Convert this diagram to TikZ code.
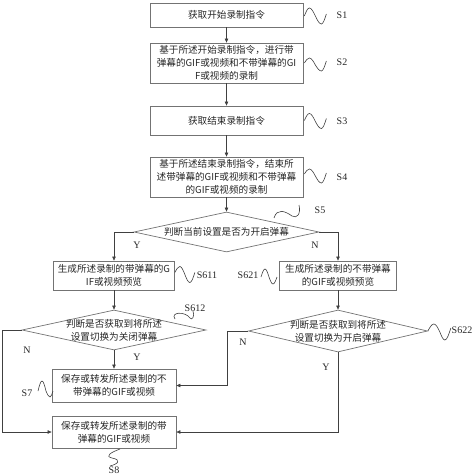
\documentclass[tikz,border=0pt]{standalone}
\usepackage{fontspec}
\setmainfont{Liberation Serif}
\newfontfamily\cjk{Noto Sans CJK SC}
\usetikzlibrary{shapes.geometric,arrows.meta,calc}
\definecolor{linec}{gray}{0.25}
\definecolor{boxc}{gray}{0.45}
\definecolor{txt}{gray}{0.15}
\begin{document}
\begin{tikzpicture}[x=1pt,y=-1pt,
  box/.style={draw=boxc, line width=0.7pt, inner sep=0pt, align=center,
    font=\cjk\fontsize{9.6}{13}\selectfont, text=txt},
  dia/.style={diamond, draw=boxc, line width=0.7pt, inner sep=0pt},
  dtext/.style={align=center, font=\cjk\fontsize{9.6}{13}\selectfont, text=txt, inner sep=0pt},
  conn/.style={draw=linec, line width=0.6pt},
  arr/.style={conn, -{Triangle[length=4pt,width=3.4pt]}},
  lab/.style={font=\fontsize{10}{12}\selectfont, text=txt, inner sep=0pt},
  wave/.style={draw=linec, line width=0.6pt}]
\useasboundingbox (0,0) rectangle (474,476);

% main column
\node[box, minimum width=153pt, minimum height=24pt] (S1) at (226.5,15) {获取开始录制指令};
\node[box, minimum width=153pt, minimum height=40pt] (S2) at (226.5,63)
  {基于所述开始录制指令，进行带\\弹幕的GIF或视频和不带弹幕的GI\\F或视频的录制};
\node[box, minimum width=153pt, minimum height=29pt] (S3) at (226.5,120.5) {获取结束录制指令};
\node[box, minimum width=153pt, minimum height=40pt] (S4) at (226.5,177)
  {基于所述结束录制指令，结束所\\述带弹幕的GIF或视频和不带弹幕\\的GIF或视频的录制};
\node[dia, minimum width=185pt, minimum height=40pt,
  label={[dtext]center:判断当前设置是否为开启弹幕}] (S5) at (226.5,232) {};

% left branch
\node[box, minimum width=121pt, minimum height=29pt] (S611) at (114,275.5)
  {生成所述录制的带弹幕的G\\IF或视频预览};
\node[dia, minimum width=184pt, minimum height=40pt,
  label={[dtext]center:{判断是否获取到将所述\\设置切换为关闭弹幕}}] (S612) at (114,330) {};
\node[box, minimum width=124pt, minimum height=33pt] (S7) at (114,385.5)
  {保存或转发所述录制的不\\带弹幕的GIF或视频};
\node[box, minimum width=124pt, minimum height=32pt] (S8) at (114,432)
  {保存或转发所述录制的带\\弹幕的GIF或视频};

% right branch
\node[box, minimum width=117pt, minimum height=29pt] (S621) at (338,275.5)
  {生成所述录制的不带弹幕\\的GIF或视频预览};
\node[dia, minimum width=179pt, minimum height=42pt,
  label={[dtext]center:{判断是否获取到将所述\\设置切换为开启弹幕}}] (S622) at (338,331) {};

% connectors
\draw[arr] (S1.south) -- (S2.north);
\draw[arr] (S2.south) -- (S3.north);
\draw[arr] (S3.south) -- (S4.north);
\draw[arr] (S4.south) -- (S5.north);
\draw[arr] (S5.west) -| (S611.north);
\draw[arr] (S5.east) -| (S621.north);
\draw[arr] (S611.south) -- (S612.north);
\draw[arr] (S621.south) -- (S622.north);
\draw[arr] (S612.south) -- (S7.north);
\draw[arr] (S612.west) -- ++(-19,0) |- (S8.west);
\draw[arr] (S622.west) -- ++(-21,0) |- (S7.east);
\draw[arr] (S622.south) |- (S8.east);

% Y / N labels
\node[lab] (y5) at (137,245) {Y};
\node[lab] (n5) at (315,245) {N};
\node[lab] (n612) at (27,350) {N};
\node[lab] (y612) at (137,357) {Y};
\node[lab] (n622) at (243,342) {N};
\node[lab] (y622) at (326,367) {Y};

% step labels
\node[lab] (l1) at (342,15) {S1};
\node[lab] (l2) at (342,62) {S2};
\node[lab] (l3) at (342,121) {S3};
\node[lab] (l4) at (342,177) {S4};
\node[lab] (l5) at (320,210) {S5};
\node[lab] (l611) at (207,275) {S611};
\node[lab] (l621) at (248,275) {S621};
\node[lab] (l612) at (195,308) {S612};
\node[lab] (l622) at (462,330) {S622};
\node[lab] (l7) at (27,393) {S7};
\node[lab] (l8) at (114,470) {S8};

% waves
\draw[wave] ($(S1.east)+(1,1)$) sin ++(5,-8) cos ++(6,8) sin ++(6,8) cos ++(5,-10);
\draw[wave] ($(S2.east)+(1,0)$) sin ++(5,-5) cos ++(6,7) sin ++(6,6) cos ++(5,-10);
\draw[wave] ($(S3.east)+(1,0)$) sin ++(5,-7) cos ++(6,8) sin ++(6,7) cos ++(5,-10);
\draw[wave] ($(S4.east)+(1,-3)$) sin ++(5,-5) cos ++(6,7) sin ++(6,7) cos ++(5,-10);
\draw[wave] (274,218) .. controls (277,208) and (285,211) .. (292,216) .. controls (297,219) and (301,214) .. (299,205);
\draw[wave] ($(S611.east)+(0,-3)$) sin ++(5,-6) cos ++(5,8) sin ++(5,8) cos ++(5,-10);
\draw[wave] (261,277) sin ++(4,-8) cos ++(4,8) sin ++(4,7) cos ++(4,-7);
\draw[wave] (175,319) .. controls (170,312) and (185,311) .. (190,318) .. controls (192,321) and (195,316) .. (193,311);
\draw[wave] (S622.east) sin ++(6,-7) cos ++(6,8) sin ++(5,8) cos ++(6,-12);
\draw[wave] (38,391) sin ++(4,-10) cos ++(4,10) sin ++(4,6) cos ++(3,-6);
\draw[wave] (120,449) .. controls (112,452) and (104,456) .. (112,458) .. controls (122,460) and (118,464) .. (110,466);
\end{tikzpicture}
\end{document}
